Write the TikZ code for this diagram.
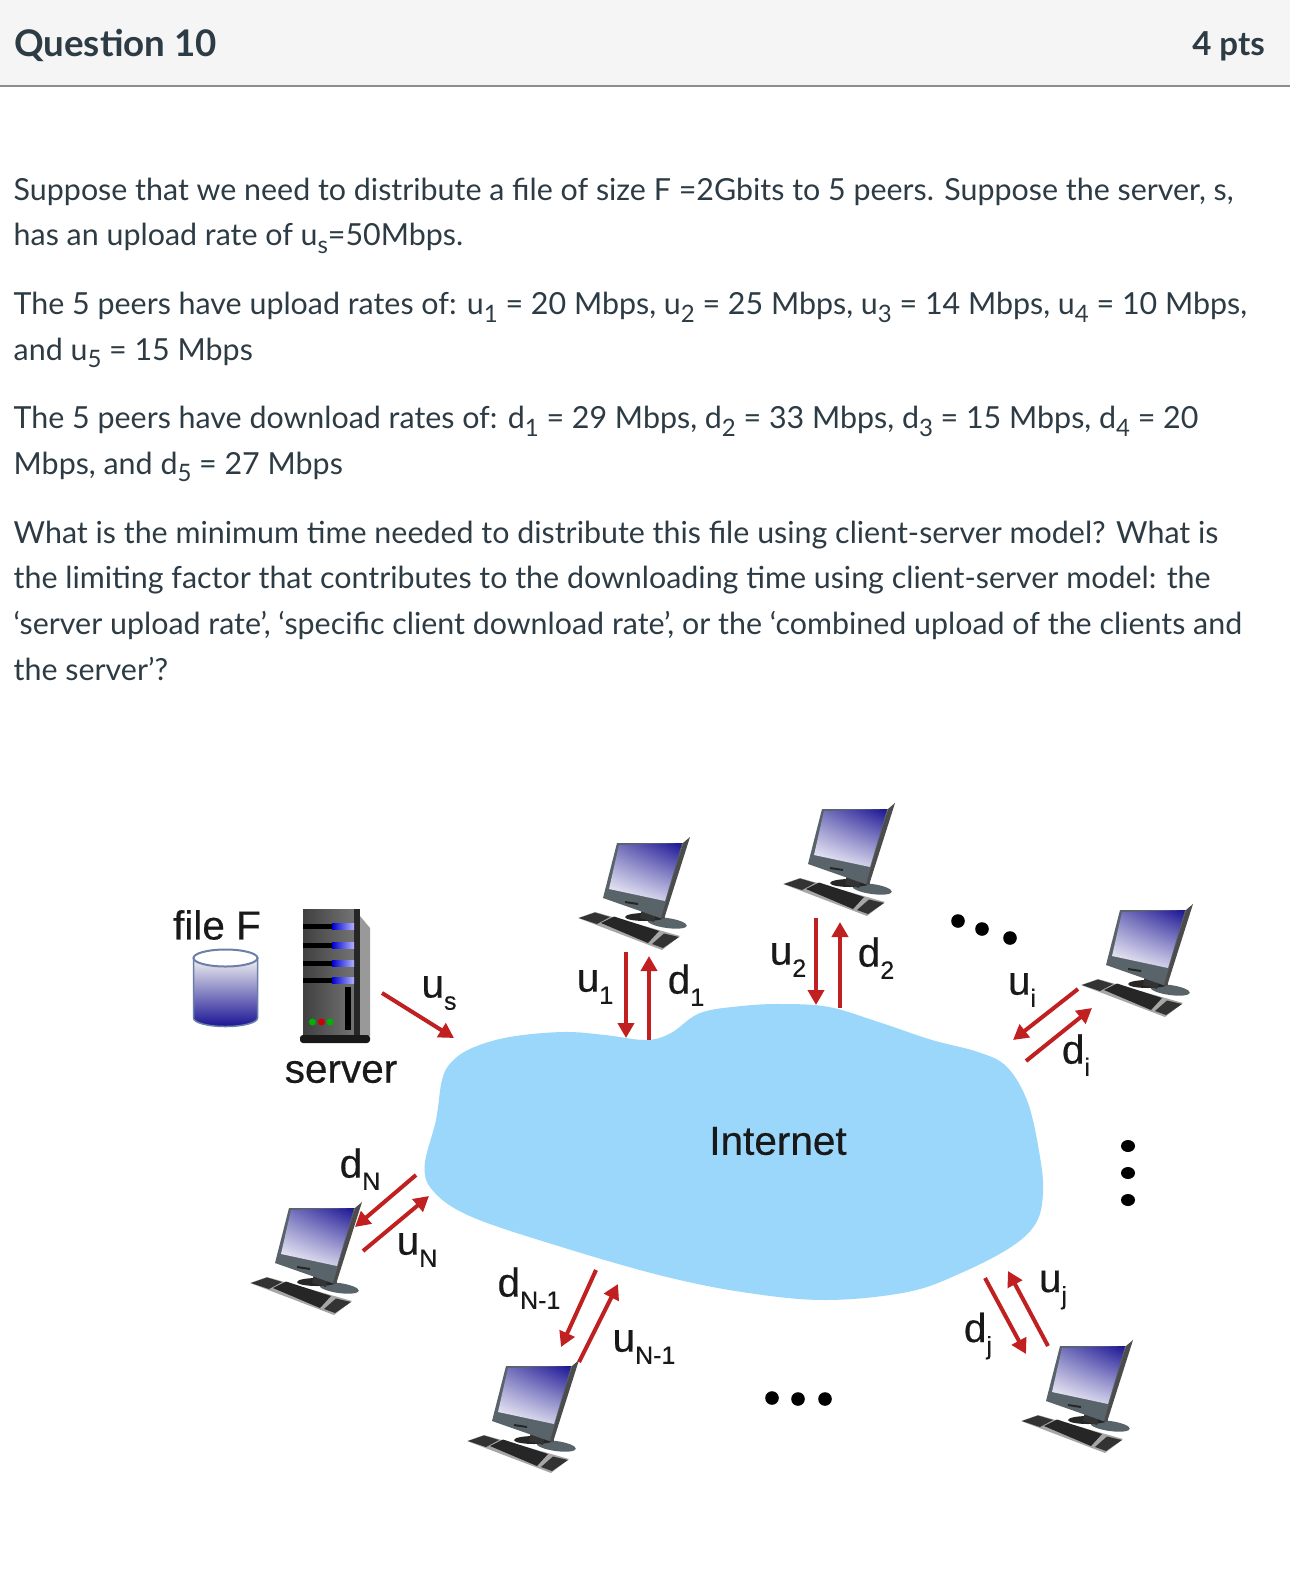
\documentclass[tikz,border=0pt]{standalone}
\usepackage{fontspec}
\setmainfont{Lato}
\newfontfamily\labfont[FakeBold=0.4]{Liberation Sans}
\usetikzlibrary{arrows.meta,shadings}
\definecolor{cloudblue}{HTML}{9BD7FA}
\definecolor{flowred}{HTML}{C02020}
\definecolor{headgray}{HTML}{F5F5F5}
\definecolor{textgray}{HTML}{2D3B45}
\definecolor{screenblue}{HTML}{1A1494}
\definecolor{midblue}{HTML}{7D79BF}
\definecolor{paleblue}{HTML}{C4C2E2}
\definecolor{framegray}{HTML}{59646A}
\definecolor{cylgray}{HTML}{6B7FA8}
\newcommand{\lowb}[1]{\raisebox{-.26em}{\fontsize{24}{24}\selectfont #1}}
\newcommand{\lowl}[1]{\raisebox{-.3em}{\fontsize{25}{25}\selectfont #1}}
\begin{document}
\begin{tikzpicture}[x=1pt,y=-1pt]
    \tikzstyle{bodytext}=[anchor=base west,inner sep=0pt,text=textgray,font=\fontsize{30.4}{36}\selectfont]
    \tikzstyle{lab}=[inner sep=0pt,text=black!90,font=\labfont\fontsize{40.5}{48}\selectfont]
    \tikzstyle{flow}=[line width=4pt,draw=flowred,-{Triangle[length=15pt,width=16pt]}]
    \tikzset{peer/.pic={
        \fill[framegray] (24,33) ellipse [x radius=20,y radius=5,rotate=-8];
        \fill[black!85] (2,27) ellipse [x radius=20,y radius=4];
        \fill[black!80] (-1,18) -- (13,22) -- (11,32) -- (-3,28) -- cycle;
        \fill[framegray] (-26,-47) -- (40,-47) -- (20,29) -- (-40,8) -- cycle;
        \shade[lower left=white,upper right=screenblue,upper left=midblue,lower right=paleblue] (-24,-45) -- (39,-47) -- (22,11) -- (-34,-1) -- cycle;
        \fill[black!70] (40,-47) -- (47,-53) -- (21,29) -- (18,28) -- cycle;
        \fill[black!85] (-18,11) -- (-5,13) -- (-5,15) -- (-18,13) -- cycle;
        \fill[black!35] (-65,28) -- (-48,22) -- (37,46) -- (19,60) -- cycle;
        \fill[black!80] (-64,28) -- (-48,22.5) -- (-33,27) -- (-46,34) -- cycle;
        \fill[black!85] (-42,33) -- (-29,26.5) -- (16,41) -- (5,53) -- cycle;
        \fill[black!80] (9,54) -- (21,43.5) -- (36,47) -- (20,58) -- cycle;
    }}
    \fill[white] (0,0) rectangle (1290,1588);
    \useasboundingbox (0,0) rectangle (1290,1588);
    \fill[headgray] (0,0) rectangle (1290,85);
    \draw[black!45,line width=1.2pt] (0,86) -- (1290,86);
    \node[anchor=base west,inner sep=0pt,text=textgray,font=\fontsize{36.7}{44}\selectfont\bfseries] (title) at (14,56) {Question 10};
    \node[anchor=base east,inner sep=0pt,text=textgray,font=\fontsize{33}{40}\selectfont\bfseries] (pts) at (1265,55) {4 pts};

    \node[bodytext] (la) at (13.5,200) {Suppose that we need to distribute a file of size F =2Gbits to 5 peers. Suppose the server, s,};
    \node[bodytext] (lb) at (13.5,245.5) {has an upload rate of u\lowb{s}=50Mbps.};
    \node[bodytext] (lc) at (13.5,314.5) {The 5 peers have upload rates of: u\lowb{1} = 20 Mbps, u\lowb{2} = 25 Mbps, u\lowb{3} = 14 Mbps, u\lowb{4} = 10 Mbps,};
    \node[bodytext] (ld) at (13.5,360) {and u\lowb{5} = 15 Mbps};
    \node[bodytext] (le) at (13.5,428.5) {The 5 peers have download rates of: d\lowb{1} = 29 Mbps, d\lowb{2} = 33 Mbps, d\lowb{3} = 15 Mbps, d\lowb{4} = 20};
    \node[bodytext] (lf) at (13.5,474) {Mbps, and d\lowb{5} = 27 Mbps};
    \node[bodytext] (lg) at (13.5,543) {What is the minimum time needed to distribute this file using client-server model? What is};
    \node[bodytext] (lh) at (13.5,588.5) {the limiting factor that contributes to the downloading time using client-server model: the};
    \node[bodytext] (li) at (13.5,634) {‘server upload rate’, ‘specific client download rate’, or the ‘combined upload of the clients and};
    \node[bodytext] (lj) at (13.5,680) {the server’?};

    \draw[fill=cloudblue,draw=none] plot[smooth cycle,tension=.6] coordinates {(451.5,1062) (472,1048) (509.5,1037) (563,1032) (605,1035) (646,1040) (671,1033) (700,1013) (742,1006) (783,1004) (829,1007) (878.5,1022) (932,1040) (978,1052) (1007,1067) (1028,1103) (1040,1157) (1043,1193) (1036,1223) (1011,1247) (961,1273) (907.5,1292) (825,1300) (742,1292) (659,1275) (555,1245) (472,1217) (435,1193) (424.5,1167) (436,1120) (442,1080)};
    \node[lab] (internet) at (778,1141) {Internet};

    \shade[top color=black!5,bottom color=screenblue,draw=cylgray,line width=1.5pt] (193.5,958) -- (193.5,1018) arc [start angle=180,end angle=0,x radius=32,y radius=8.5] -- (257.5,958) -- cycle;
    \draw[fill=white,draw=cylgray,line width=2pt] (225.5,958) ellipse [x radius=32,y radius=8.5];
    \node[lab] (file) at (217,925) {file F};

    \fill[black!40] (360,916) -- (370,928) -- (370,1036) -- (360,1040) -- cycle;
    \shade[left color=black!75,right color=black!55] (303,909) rectangle (354,1040);
    \fill[black!85] (354,909) rectangle (360,1038);
    \fill[black!90,rounded corners=3pt] (300,1035) rectangle (370,1043);
    \foreach \y in {926,945,963,980} {
        \fill[black] (303,\y-2.5) rectangle (332,\y+2.5);
        \shade[left color=blue!80!black,right color=blue!30!white] (332,\y-3) rectangle (354,\y+3);
    }
    \fill[black] (345,987) rectangle (351,1030);
    \fill[green!70!black] (312.5,1022) circle (3.5);
    \fill[red!80!black] (321.5,1022) circle (3.5);
    \fill[green!70!black] (330,1022) circle (3.5);
    \node[lab] (server) at (341,1072) {server};

    \pic (peera) at (643,890) {peer};
    \pic (peerb) at (848,856) {peer};
    \pic (peerc) at (1146,957) {peer};
    \pic (peerd) at (1086,1393) {peer};
    \pic (peere) at (532,1413) {peer};
    \pic (peerf) at (315,1255) {peer};

    \coordinate (usa) at (382,993);    \coordinate (usb) at (454,1038);
    \coordinate (uaa) at (626,952);    \coordinate (uab) at (626,1038);
    \coordinate (daa) at (649,1040);   \coordinate (dab) at (649,956);
    \coordinate (uba) at (816,918);    \coordinate (ubb) at (816,1005);
    \coordinate (dba) at (840,1008);   \coordinate (dbb) at (840,922);
    \coordinate (uia) at (1078,989);   \coordinate (uib) at (1013,1040);
    \coordinate (dia) at (1026,1061);  \coordinate (dib) at (1092,1008);
    \coordinate (uja) at (1048,1346);  \coordinate (ujb) at (1008,1271);
    \coordinate (dja) at (985,1278);   \coordinate (djb) at (1026,1354);
    \coordinate (dna) at (416,1175);   \coordinate (dnb) at (355,1227);
    \coordinate (una) at (363,1251);   \coordinate (unb) at (429,1196);
    \coordinate (dma) at (596,1270);   \coordinate (dmb) at (561,1347);
    \coordinate (uma) at (579,1362);   \coordinate (umb) at (618,1284);
    \draw[flow] (usa) -- (usb);
    \draw[flow] (uaa) -- (uab);
    \draw[flow] (daa) -- (dab);
    \draw[flow] (uba) -- (ubb);
    \draw[flow] (dba) -- (dbb);
    \draw[flow] (uia) -- (uib);
    \draw[flow] (dia) -- (dib);
    \draw[flow] (uja) -- (ujb);
    \draw[flow] (dja) -- (djb);
    \draw[flow] (dna) -- (dnb);
    \draw[flow] (una) -- (unb);
    \draw[flow] (dma) -- (dmb);
    \draw[flow] (uma) -- (umb);

    \node[lab] (us) at (439,993) {u\lowl{s}};
    \node[lab] (ua) at (595,987) {u\lowl{1}};
    \node[lab] (da) at (686,985) {d\lowl{1}};
    \node[lab] (ub) at (788,960) {u\lowl{2}};
    \node[lab] (db) at (876,958) {d\lowl{2}};
    \node[lab] (ui) at (1022,990) {u\lowl{i}};
    \node[lab] (di) at (1076,1055) {d\lowl{i}};
    \node[lab] (uj) at (1053,1290) {u\lowl{j}};
    \node[lab] (dj) at (978,1336) {d\lowl{j}};
    \node[lab] (dn) at (360,1169) {d\lowl{N}};
    \node[lab] (un) at (417,1250) {u\lowl{N}};
    \node[lab] (dm) at (529,1288) {d\lowl{N-1}};
    \node[lab] (um) at (644,1347) {u\lowl{N-1}};

    \foreach \x/\y in {958/921,982/929,1010/938,772/1398,798/1399,825/1399}
        \fill[black] (\x,\y) circle (6.8);
    \foreach \y in {1146,1173,1200}
        \fill[black] (1128,\y) ellipse [x radius=7,y radius=6];
\end{tikzpicture}
\end{document}
